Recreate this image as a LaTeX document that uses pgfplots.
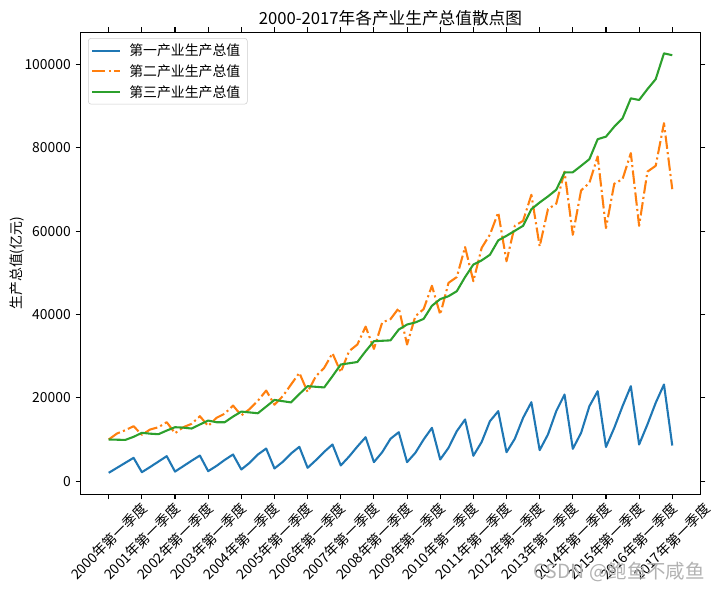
\documentclass[border=0pt]{standalone}
\usepackage{fontspec}
\setmainfont{Noto Sans CJK SC}
\usepackage{pgfplots}
\usepackage{pgfplotstable}
\pgfplotsset{compat=1.18}
\definecolor{c1}{HTML}{1F77B4}
\definecolor{c2}{HTML}{FF7F0E}
\definecolor{c3}{HTML}{2CA02C}
\pgfplotstableread{
i a b c
0 2000 10000 10000
1 3200 11440 9950
2 4400 12230 9900
3 5600 13190 10640
4 2150 11130 11600
5 3400 12400 11400
6 4700 12950 11270
7 6000 14150 12150
8 2300 11500 12950
9 3600 12950 12850
10 4900 13760 12630
11 6150 15590 13600
12 2400 13250 14550
13 3650 15200 14150
14 5100 16200 14150
15 6400 18150 15500
16 2800 15780 16700
17 4400 17300 16500
18 6400 19300 16300
19 7830 21750 17900
20 3040 18350 19500
21 4640 20400 19200
22 6640 23200 18900
23 8240 26000 20900
24 3200 21400 22800
25 5040 25200 22650
26 7040 27200 22500
27 8800 30700 25200
28 3760 26150 28000
29 5900 31200 28300
30 8300 32800 28600
31 10550 37100 31200
32 4560 31750 33600
33 6950 38100 33700
34 10170 38900 33800
35 11750 41550 36400
36 4560 32800 37600
37 6800 39600 38100
38 10000 41300 38950
39 12800 46900 42100
40 5200 40000 43700
41 8000 47600 44400
42 12000 49000 45600
43 14800 56200 49000
44 6100 48000 52000
45 9400 56000 53000
46 14400 59200 54350
47 16800 64500 57800
48 6950 52800 58900
49 10170 61300 60100
50 15200 62500 61300
51 18950 68750 65300
52 7430 56350 66900
53 11200 65300 68350
54 16800 66600 69950
55 20800 74300 74100
56 7770 59150 74150
57 11600 69800 75700
58 18000 71600 77300
59 21600 77950 82100
60 8200 60750 82700
61 12800 71400 85100
62 18000 72500 87100
63 22800 78750 91900
64 8800 61300 91500
65 13600 74300 94100
66 18800 75700 96500
67 23200 85950 102700
68 8560 70100 102250
}\gdpdata
\begin{document}
\begin{tikzpicture}
\path[use as bounding box] (-58pt,-70.6pt) rectangle (461.2pt,355.9pt);
\begin{axis}[
  at={(0,0)}, anchor=south west,
  width=446.4pt, height=332.6pt, scale only axis,
  xmin=-3.4, xmax=71.4, ymin=-3140, ymax=107740,
  xtick={0,4,...,68},
  xticklabels={2000年第一季度,2001年第一季度,2002年第一季度,2003年第一季度,2004年第一季度,2005年第一季度,2006年第一季度,2007年第一季度,2008年第一季度,2009年第一季度,2010年第一季度,2011年第一季度,2012年第一季度,2013年第一季度,2014年第一季度,2015年第一季度,2016年第一季度,2017年第一季度},
  ytick={0,20000,40000,60000,80000,100000},
  scaled y ticks=false,
  yticklabel style={/pgf/number format/fixed, /pgf/number format/1000 sep={}},
  /pgf/number format/assume math mode=true,
  tick align=outside, major tick length=3.5pt,
  every tick/.style={black, line width=0.8pt},
  axis line style={line width=0.8pt},
  tick label style={font=\fontsize{10}{12}\selectfont},
  xticklabel style={yshift=-30.5pt, rotate=45, anchor=center},
  ylabel={生产总值(亿元)},
  ylabel style={at={(axis description cs:-0.1024,0.5)}, anchor=center, font=\fontsize{10}{12}\selectfont},
  title={2000-2017年各产业生产总值散点图},
  title style={at={(0.5,1)}, anchor=center, yshift=4pt, font=\fontsize{12}{14}\selectfont},
  legend style={at={(0,1)}, anchor=north west, xshift=5.4pt, yshift=-4.1pt,
    draw=black!20, rounded corners=2pt, inner xsep=2pt, inner ysep=1.5pt,
    font=\fontsize{10}{12}\selectfont,
    nodes={inner ysep=2.4pt, inner xsep=3pt, text height=8.8pt, text depth=1.2pt},
    /tikz/every odd column/.append style={column sep=3pt}},
  legend cell align=left,
  legend image code/.code={\draw[#1] (0pt,0pt) -- (20pt,0pt);},
]
\addplot[c1, line width=1.5pt, line join=round] table[x=i, y=a] {\gdpdata};
\addlegendentry{第一产业生产总值}
\addplot[c2, line width=1.5pt, line join=round, dash pattern=on 9.6pt off 2.4pt on 1.5pt off 2.4pt] table[x=i, y=b] {\gdpdata};
\addlegendentry{第二产业生产总值}
\addplot[c3, line width=1.5pt, line join=round] table[x=i, y=c] {\gdpdata};
\addlegendentry{第三产业生产总值}
\end{axis}
\node[text=black!30, font=\fontsize{14}{16}\selectfont] at (388pt,-56pt) {CSDN @鲍鱼不咸鱼};
\end{tikzpicture}
\end{document}
